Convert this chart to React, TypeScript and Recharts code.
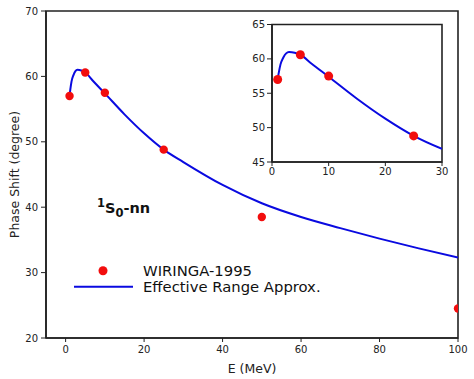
import React from "react";
import { ComposedChart, Line, Scatter, XAxis, YAxis, ReferenceDot, ReferenceArea } from "recharts";

// WIRINGA-1995 phase shifts (degree) at lab energy E (MeV)
const wiringaE = [1, 5, 10, 25, 50, 100];
const wiringaPhase = [57.0, 60.6, 57.5, 48.8, 38.5, 24.5];

// effective range curve
const curveE = [0.9, 1.2, 1.5, 2, 2.5, 3, 4, 5, 7, 10, 15, 20, 25, 30, 40, 50, 60, 70, 80, 90, 100];
const curvePhase = [56.5, 58.0, 59.2, 60.2, 60.8, 61.0, 60.9, 60.6, 59.3, 57.4, 54.2, 51.3, 48.8, 46.9, 43.4, 40.6, 38.5, 36.8, 35.2, 33.7, 32.3];

const mainXTicks = [0, 20, 40, 60, 80, 100];
const mainYTicks = [20, 30, 40, 50, 60, 70];
const insetXTicks = [0, 10, 20, 30];
const insetYTicks = [45, 50, 55, 60, 65];

const seriesNames = ["WIRINGA-1995", "Effective Range Approx."];

const points = wiringaE.map((e, i) => ({ e, phase: wiringaPhase[i] }));
const curve = curveE.map((e, i) => ({ e, phase: curvePhase[i] }));
const insetPoints = points.filter((p) => p.e <= 30);
const insetCurve = curve.filter((p) => p.e <= 30);

const RED = "#f20d0d";
const BLUE = "#0a0ae0";
const AXIS = "#222";
const FONT = "'DejaVu Sans', sans-serif";

const dot = (r: number) => (p: any) => <circle cx={p.cx} cy={p.cy} r={r} fill={RED} />;

const xLabel = (props: any) => {
  const vb = props.viewBox;
  return (
    <text x={vb.x + vb.width / 2} y={vb.y + 30} textAnchor="middle" dominantBaseline="central" fontSize={12.5} fill={AXIS}>
      E (MeV)
    </text>
  );
};

const yLabel = (props: any) => {
  const vb = props.viewBox;
  const cy = vb.y + vb.height / 2;
  return (
    <text x={14} y={cy} transform={`rotate(-90 14 ${cy})`} textAnchor="middle" dominantBaseline="central" fontSize={12.5} fill={AXIS}>
      Phase Shift (degree)
    </text>
  );
};

const stateLabel = (p: any) => (
  <text x={p.cx} y={p.cy + 6} fontSize={14.5} fontWeight="bold" fill="#111">
    <tspan fontSize={11.5} dy={-6}>1</tspan>
    <tspan dy={6}>S</tspan>
    <tspan fontSize={11.5} dy={4}>0</tspan>
    <tspan dy={-4}>-nn</tspan>
  </text>
);

function Legend() {
  const row = { display: "flex", alignItems: "center", height: 15.5 } as const;
  return (
    <div style={{ position: "absolute", left: 74, top: 263, fontFamily: FONT, fontSize: 14.8, color: "#111", lineHeight: "15.5px" }}>
      <div style={row}>
        <svg width={69} height={15.5}>
          <circle cx={29} cy={7.75} r={4.5} fill={RED} />
        </svg>
        <span>{seriesNames[0]}</span>
      </div>
      <div style={row}>
        <svg width={69} height={15.5}>
          <line x1={0} x2={59} y1={7.75} y2={7.75} stroke={BLUE} strokeWidth={2} />
        </svg>
        <span>{seriesNames[1]}</span>
      </div>
    </div>
  );
}

export default function App() {
  const tick = { fontSize: 10, fill: AXIS };
  const axisLine = { stroke: AXIS, strokeWidth: 1.6 };
  return (
    <div style={{ position: "absolute", left: 0, top: 0, width: 474, height: 379, background: "#fff", fontFamily: FONT }}>
      <ComposedChart width={474} height={379} margin={{ top: 11, right: 16, left: 0, bottom: 0 }}>
        <XAxis
          dataKey="e"
          type="number"
          domain={[-5, 100]}
          ticks={mainXTicks}
          interval={0}
          allowDataOverflow
          height={41}
          tick={tick}
          tickSize={4}
          tickMargin={4}
          axisLine={axisLine}
          tickLine={{ stroke: AXIS }}
          label={xLabel}
        />
        <YAxis
          dataKey="phase"
          type="number"
          domain={[20, 70]}
          ticks={mainYTicks}
          interval={0}
          allowDataOverflow
          width={46}
          tick={tick}
          tickSize={5}
          tickMargin={3}
          axisLine={axisLine}
          tickLine={{ stroke: AXIS }}
          label={yLabel}
        />
        <ReferenceArea x1={-5} x2={100} y1={20} y2={70} fill="none" stroke={AXIS} strokeWidth={1.6} />
        <Line data={curve} dataKey="phase" type="monotone" stroke={BLUE} strokeWidth={2} dot={false} isAnimationActive={false} />
        <Scatter data={points} dataKey="phase" shape={dot(4.2)} isAnimationActive={false} />
        <ReferenceDot x={8} y={40} shape={stateLabel} />
      </ComposedChart>

      <div style={{ position: "absolute", left: 236, top: 14 }}>
        <ComposedChart width={220} height={180} margin={{ top: 10.5, right: 14, left: 0, bottom: 0 }}>
          <XAxis
            dataKey="e"
            type="number"
            domain={[0, 30]}
            ticks={insetXTicks}
            interval={0}
            allowDataOverflow
            height={32}
            tick={tick}
            tickSize={4}
            tickMargin={2}
            axisLine={axisLine}
            tickLine={{ stroke: AXIS }}
          />
          <YAxis
            dataKey="phase"
            type="number"
            domain={[45, 65]}
            ticks={insetYTicks}
            interval={0}
            allowDataOverflow
            width={36}
            tick={tick}
            tickSize={5}
            tickMargin={2}
            axisLine={axisLine}
            tickLine={{ stroke: AXIS }}
          />
          <ReferenceArea x1={0} x2={30} y1={45} y2={65} fill="none" stroke={AXIS} strokeWidth={1.6} />
          <Line data={insetCurve} dataKey="phase" type="monotone" stroke={BLUE} strokeWidth={2} dot={false} isAnimationActive={false} />
          <Scatter data={insetPoints} dataKey="phase" shape={dot(4.5)} isAnimationActive={false} />
        </ComposedChart>
      </div>

      <Legend />
    </div>
  );
}
